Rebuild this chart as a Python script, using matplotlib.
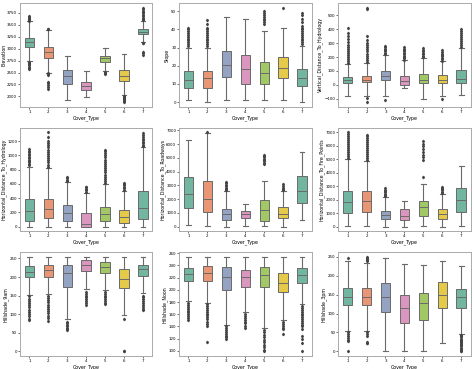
import matplotlib
matplotlib.use('Agg')
import matplotlib.pyplot as plt
from matplotlib.ticker import MultipleLocator
import seaborn as sns

cover_types = ['1', '2', '3', '4', '5', '6', '7']

# per cover type: whisker low, q1, median, q3, whisker high
elevation = [[2735, 3036, 3134, 3232, 3575], [2489, 2812, 2931, 3043, 3400],
             [1915, 2265, 2419, 2560, 2840], [1985, 2139, 2216, 2307, 2531],
             [2532, 2721, 2798, 2854, 3015], [2020, 2328, 2419, 2553, 2882],
             [3140, 3302, 3351, 3414, 3582]]
elevation_fliers = [[3590, 3610, 3630, 3650, 3670, 3690, 2720, 2700, 2680, 2650, 2620, 2600, 2580],
                    [3410, 3420, 2480, 2460, 2440, 2300, 2270, 2230, 2200, 2160],
                    [], [],
                    [2520, 2500, 2480, 2460],
                    [2000, 1980, 1960, 1940, 1920, 1900, 1880],
                    [3600, 3625, 3650, 3680, 3710, 3740, 3770, 3800, 3830, 3860, 3125, 3115, 2930, 2900, 2870]]

slope = [[1, 8, 12.3, 17, 30], [0, 8, 13, 17, 30], [1, 13.8, 20.6, 28, 47],
         [1, 10, 18, 26, 46], [1, 10, 16, 22, 39], [1, 13, 19, 25, 41],
         [0, 9, 13.4, 18, 31]]
slope_fliers = [[31, 32, 33, 34, 35, 36, 37, 38, 39, 40, 41],
                [31, 32, 33, 34, 35, 36, 37, 38, 39, 40, 41, 43, 45],
                [], [],
                [43, 44, 45, 46, 47, 48, 49, 50],
                [52],
                [32, 33, 34, 35, 36, 37, 38, 39, 40, 41, 42, 44, 46, 48, 49]]

vert_hydro = [[-81, 14, 38, 57, 148], [-81, 19, 38, 67, 157], [-81, 38, 67, 98, 214],
              [-21, 2, 26, 67, 176], [-105, 14, 38, 81, 193], [-81, 14, 38, 71, 171],
              [-74, 14, 43, 110, 262]]
vert_hydro_fliers = [[155, 170, 185, 200, 215, 230, 245, 260, 275, 290, 310, 330, 350, 370, 410],
                     [165, 180, 195, 210, 225, 240, 255, 270, 285, 300, 320, 350, 545, 555, -98, -124],
                     [220, 230, 240, 250, 260, 270, 276, -112],
                     [180, 190, 200, 210, 220, 230, 240, 250, 260, 271],
                     [200, 210, 220, 230, 240, 250, 264],
                     [175, 185, 195, 205, 215, 225, 235, 248, -100],
                     [270, 285, 300, 315, 330, 345, 360, 375, 390, 402]]

horiz_hydro = [[0, 84, 215, 383, 841], [0, 117, 243, 393, 818], [0, 84, 187, 299, 631],
               [0, 0, 37, 196, 477], [0, 84, 173, 280, 598], [0, 56, 131, 234, 505],
               [0, 103, 262, 500, 1112]]
horiz_hydro_fliers = [[860, 880, 900, 920, 940, 960, 980, 1000, 1020, 1040, 1060, 1089],
                      [840, 870, 900, 930, 960, 990, 1020, 1050, 1080, 1110, 1140, 1170, 1200, 1260, 1322],
                      [640, 660, 680, 700],
                      [490, 510, 530, 550, 561],
                      [610, 640, 670, 700, 730, 760, 790, 820, 850, 880, 910, 940, 970, 1000, 1030, 1060, 1075],
                      [520, 540, 560, 580, 600, 617],
                      [1130, 1150, 1170, 1190, 1210, 1230, 1260, 1290, 1308]]

roadways = [[97, 1338, 2384, 3577, 6326], [49, 1095, 2044, 3333, 6813], [0, 487, 900, 1314, 2579],
            [49, 608, 900, 1168, 1679], [49, 438, 1241, 1922, 3358], [0, 608, 949, 1411, 2603],
            [487, 1703, 2603, 3674, 5426]]
roadways_fliers = [[], [6860],
                   [2650, 2750, 2850, 2950, 3050, 3150, 3236],
                   [],
                   [4550, 4650, 4750, 4850, 4950, 5050, 5150, 5207],
                   [2650, 2750, 2850, 2950, 3090],
                   []]

fire_points = [[50, 1042, 1811, 2655, 5012], [50, 1117, 1911, 2655, 4888], [0, 546, 868, 1191, 2184],
               [0, 496, 794, 1290, 1911], [50, 819, 1439, 1935, 3151], [0, 596, 943, 1340, 2432],
               [50, 1117, 1985, 2903, 4467]]
fire_points_fliers = [[5100, 5250, 5400, 5550, 5700, 5850, 6000, 6150, 6300, 6450, 6600, 6750, 6900, 7000],
                      [4950, 5100, 5250, 5400, 5550, 5700, 5850, 6000, 6150, 6300, 6450, 6600, 6750, 6824],
                      [2250, 2350, 2450, 2550, 2650, 2750, 2854],
                      [],
                      [3722, 4963, 5150, 5350, 5550, 5750, 5950, 6150, 6328],
                      [2500, 2600, 2700, 2800, 2900, 2978],
                      []]

shade_9am = [[152, 199, 214, 229, 254], [154, 201, 219, 231, 254], [86, 174, 211, 233, 254],
             [167, 215, 233, 247, 254], [166, 211, 226, 240, 254], [98, 170, 196, 222, 254],
             [156, 202, 222, 233, 254]]
shade_9am_fliers = [[148, 142, 136, 130, 124, 118, 112, 106, 100, 94, 88, 84],
                    [150, 144, 138, 132, 126, 120, 114, 108, 102, 96, 90, 82],
                    [80, 76, 72, 68, 64, 60, 57],
                    [160, 155, 150, 145, 140, 135, 130, 125],
                    [160, 155, 150, 145, 140, 135, 130, 127],
                    [87, 1, 0],
                    [150, 145, 140, 135, 130, 125, 120, 115, 111]]

shade_noon = [[181, 214, 226, 236, 254], [179, 215, 228, 239, 254], [143, 200, 221, 238, 254],
              [163, 204, 221, 232, 254], [137, 204, 224, 238, 254], [150, 196, 212, 227, 254],
              [176, 212, 224, 236, 254]]
shade_noon_fliers = [[178, 175, 172, 169, 166, 163, 160, 157, 154, 150],
                     [176, 173, 170, 167, 164, 161, 158, 155, 152, 148, 144, 140, 115],
                     [140, 137, 134, 131, 128, 125, 122, 119],
                     [160, 157, 154, 151, 148, 145, 141, 137],
                     [134, 130, 126, 122, 118, 114, 110, 106, 102, 99],
                     [147, 144, 141, 138, 135, 127],
                     [173, 170, 167, 164, 161, 158, 155, 152, 149, 146, 143, 140, 135, 125, 120, 112, 100]]

shade_3pm = [[53, 122, 144, 169, 238], [53, 122, 144, 167, 233], [0, 104, 143, 181, 248],
             [0, 74, 114, 150, 231], [0, 84, 129, 155, 229], [22, 114, 150, 183, 239],
             [46, 116, 143, 164, 226]]
shade_3pm_fliers = [[246, 50, 45, 40, 35, 30, 28, 2],
                    [238, 241, 244, 247, 250, 50, 46, 42, 26, 23, 21],
                    [], [], [], [],
                    [43, 40, 37, 34, 31, 28, 25, 22, 19, 16, 13, 10, 7, 4, 1, 0]]

features = [
    ("Elevation", elevation, elevation_fliers, 250),
    ("Slope", slope, slope_fliers, 10),
    ("Vertical_Distance_To_Hydrology", vert_hydro, vert_hydro_fliers, 100),
    ("Horizontal_Distance_To_Hydrology", horiz_hydro, horiz_hydro_fliers, 200),
    ("Horizontal_Distance_To_Roadways", roadways, roadways_fliers, 1000),
    ("Horizontal_Distance_To_Fire_Points", fire_points, fire_points_fliers, 1000),
    ("Hillshade_9am", shade_9am, shade_9am_fliers, 50),
    ("Hillshade_Noon", shade_noon, shade_noon_fliers, 20),
    ("Hillshade_3pm", shade_3pm, shade_3pm_fliers, 50),
]

# Set2 with seaborn's default saturation, six colours cycling
base = [sns.desaturate(c, 0.75) for c in sns.color_palette('Set2', 6)]
colors = [base[i % 6] for i in range(len(cover_types))]
line_col = '#6a6a6a'

fig, axes = plt.subplots(3, 3, figsize=(4.74, 3.69), dpi=100)
fig.subplots_adjust(left=0.042, right=0.993, top=0.992, bottom=0.035, wspace=0.2, hspace=0.2)

for ax, (name, stats, fliers, step) in zip(axes.flat, features):
    bstats = []
    for s, f in zip(stats, fliers):
        bstats.append(dict(whislo=s[0], q1=s[1], med=s[2], q3=s[3], whishi=s[4], fliers=f))
    parts = ax.bxp(bstats, positions=range(len(cover_types)), widths=0.5, patch_artist=True,
                   boxprops=dict(edgecolor=line_col, linewidth=0.7),
                   whiskerprops=dict(color=line_col, linewidth=0.8),
                   capprops=dict(color=line_col, linewidth=0.8),
                   medianprops=dict(color=line_col, linewidth=0.7),
                   flierprops=dict(marker='d', markersize=1.3, markerfacecolor='#444444',
                                   markeredgecolor='#444444', linestyle='none'))
    for patch, c in zip(parts['boxes'], colors):
        patch.set_facecolor(c)
    ax.set_xlim(-0.5, len(cover_types) - 0.5)
    ax.set_xticks(range(len(cover_types)))
    ax.set_xticklabels(cover_types)
    ax.yaxis.set_major_locator(MultipleLocator(step))
    ax.set_xlabel("Cover_Type", fontsize=3.4, labelpad=1)
    ax.set_ylabel(name, fontsize=3.4, labelpad=0.8)
    ax.tick_params(labelsize=2.9, length=1.2, width=0.4, pad=0.8)
    for sp in ax.spines.values():
        sp.set_color('#aaaaaa')
        sp.set_linewidth(0.7)

plt.savefig('out.png', dpi=100)
